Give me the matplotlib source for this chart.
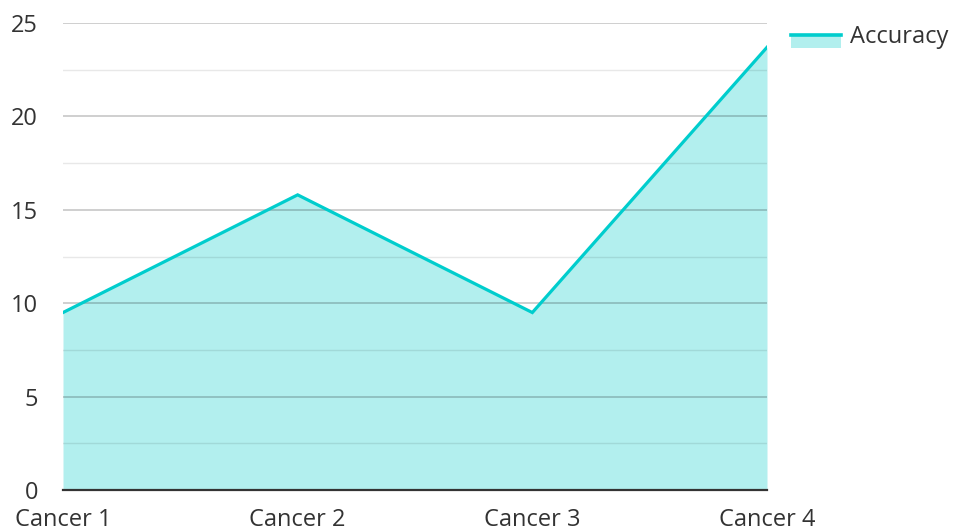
import matplotlib
matplotlib.use("Agg")
import matplotlib.pyplot as plt
from matplotlib.lines import Line2D
from matplotlib.patches import Rectangle

categories = ["Cancer 1", "Cancer 2", "Cancer 3", "Cancer 4"]
accuracy = [9.5, 15.8, 9.5, 23.7]
series_name = "Accuracy"
yticks = [0, 5, 10, 15, 20, 25]

plt.rcParams['font.family'] = ['Open Sans', 'DejaVu Sans']

fig = plt.figure(figsize=(9.56, 5.31), dpi=100)
W, H = 956, 531
ax = fig.add_axes([63 / W, (H - 490) / H, (767 - 63) / W, (490 - 23) / H])

x = list(range(len(categories)))
line_color = "#00CDCD"
fill_color = "#B2EFEE"

ax.fill_between(x, accuracy, 0, color=fill_color, lw=0, zorder=1)
ax.plot(x, accuracy, color=line_color, lw=2.3, zorder=3, solid_joinstyle='miter')

ax.set_xlim(0, len(categories) - 1)
ax.set_ylim(0, 25)
ax.set_yticks(yticks)
ax.set_yticks([2.5, 7.5, 12.5, 17.5, 22.5], minor=True)
ax.set_xticks(x)
ax.set_xticklabels(categories)

ax.grid(True, which='major', axis='y', color='#000000', alpha=0.22, lw=1.2, zorder=2)
ax.grid(True, which='minor', axis='y', color='#000000', alpha=0.09, lw=1.0, zorder=2)
ax.set_axisbelow(False)

for s in ['top', 'right', 'left']:
    ax.spines[s].set_visible(False)
ax.spines['bottom'].set_color('#333333')
ax.spines['bottom'].set_linewidth(1.6)
ax.spines['bottom'].set_zorder(4)

fs = 17
ax.tick_params(axis='both', which='both', length=0, labelsize=fs, colors='#333333')
ax.tick_params(axis='y', pad=18)
ax.tick_params(axis='x', pad=13)
for lbl in ax.get_yticklabels():
    lbl.set_horizontalalignment('right')

# legend
fig.add_artist(Rectangle((791 / W, (H - 48) / H), 50 / W, 13 / H,
                         transform=fig.transFigure, color=fill_color, lw=0))
fig.add_artist(Line2D([791 / W, 841 / W], [(H - 35) / H, (H - 35) / H],
                      transform=fig.transFigure, color=line_color, lw=2.6))
fig.text(850 / W, (H - 37) / H, series_name, fontsize=fs, color='#333333',
         va='center', ha='left')

fig.savefig("out.png", dpi=100)
